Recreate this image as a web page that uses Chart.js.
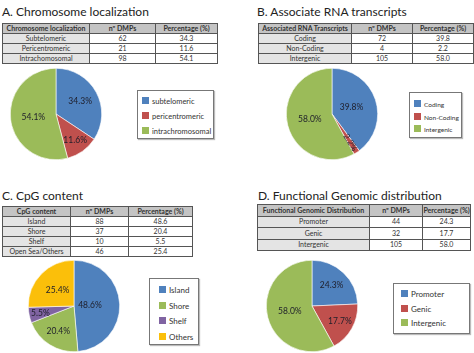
<!DOCTYPE html>
<html>
<head>
<meta charset="utf-8">
<script src="https://cdn.jsdelivr.net/npm/chart.js@4/dist/chart.umd.min.js"></script>
<style>
  body { margin: 0; background: #fff; font-family: Lato, "Open Sans", sans-serif; }
  #page { position: relative; width: 474px; height: 353px; overflow: hidden; }
  .title { position: absolute; font-size: 12px; color: #222; white-space: nowrap; }
  table { position: absolute; border-collapse: collapse; table-layout: fixed; border: 1.5px solid #333;
          font-size: 7px; color: #333; }
  td, th { border: 1px solid #555; text-align: center; padding: 0; line-height: 1; white-space: nowrap; overflow: hidden; }
  th { background: #c4c4c4; font-weight: bold; }
  td.first { background: #e4e4e4; }
  .pie { position: absolute; }
  .legend { position: absolute; border: 1px solid #777; box-shadow: 1px 1px 1px #bbb; color: #333; }
  .legend div { position: absolute; white-space: nowrap; line-height: 1; }
  .legend span { display: inline-block; width: 5px; height: 5px; border: 1px solid; margin-right: 3px; vertical-align: 0px; }
</style>
</head>
<body>
<div id="page"></div>
<script>
// Panel A
const chromCategories = ['Subtelomeric', 'Pericentromeric', 'Intrachomosomal'];
const chromLegend = ['subtelomeric', 'pericentromeric', 'intrachromosomal'];
const chromDMPs = [62, 21, 98];
const chromPercent = [34.3, 11.6, 54.1];

// Panel B
const rnaCategories = ['Coding', 'Non-Coding', 'Intergenic'];
const rnaDMPs = [72, 4, 105];
const rnaPercent = [39.8, 2.2, 58.0];

// Panel C
const cpgCategories = ['Island', 'Shore', 'Shelf', 'Open Sea/Others'];
const cpgLegend = ['Island', 'Shore', 'Shelf', 'Others'];
const cpgDMPs = [88, 37, 10, 46];
const cpgPercent = [48.6, 20.4, 5.5, 25.4];

// Panel D
const funcCategories = ['Promoter', 'Genic', 'Intergenic'];
const funcDMPs = [44, 32, 105];
const funcPercent = [24.3, 17.7, 58.0];

const blue = '#4f81bd', red = '#c0504d', green = '#9bbb59', purple = '#8064a2', yellow = '#fbbf0a';

const page = document.getElementById('page');

function addTitle(text, x, y) {
  const d = document.createElement('div');
  d.className = 'title';
  d.textContent = text;
  d.style.left = x + 'px';
  d.style.top = y + 'px';
  page.appendChild(d);
}

function addTable(head, cats, counts, pcts, x, y, cols, rowH) {
  const t = document.createElement('table');
  t.style.left = x + 'px';
  t.style.top = y + 'px';
  t.style.width = cols.reduce((a, b) => a + b, 0) + 'px';
  const cg = document.createElement('colgroup');
  cols.forEach(w => { const c = document.createElement('col'); c.style.width = w + 'px'; cg.appendChild(c); });
  t.appendChild(cg);
  let html = '<tr style="height:' + rowH + 'px"><th>' + head + '</th><th>nº DMPs</th><th>Percentage (%)</th></tr>';
  cats.forEach((c, i) => {
    html += '<tr style="height:' + rowH + 'px"><td class="first">' + c + '</td><td>' + counts[i] + '</td><td>' + pcts[i].toFixed(1) + '</td></tr>';
  });
  t.insertAdjacentHTML('beforeend', html);
  page.appendChild(t);
}

function addLegend(labels, colors, box, rows, fontSize) {
  const l = document.createElement('div');
  l.className = 'legend';
  l.style.left = box[0] + 'px';
  l.style.top = box[1] + 'px';
  l.style.width = box[2] + 'px';
  l.style.height = box[3] + 'px';
  l.style.fontSize = fontSize + 'px';
  labels.forEach((lab, i) => {
    const it = document.createElement('div');
    it.style.left = rows.x + 'px';
    it.style.top = (rows.y0 + i * rows.dy) + 'px';
    it.innerHTML = '<span style="background:' + colors[i] + ';border-color:' + colors[i] + '"></span>' + lab;
    l.appendChild(it);
  });
  page.appendChild(l);
}

const pctLabels = {
  id: 'pctLabels',
  afterDatasetsDraw(chart, args, opts) {
    const ctx = chart.ctx;
    const meta = chart.getDatasetMeta(0);
    const vals = chart.data.datasets[0].data;
    ctx.save();
    ctx.font = opts.size + 'px Lato, sans-serif';
    ctx.fillStyle = '#1e1e2a';
    ctx.textAlign = 'center';
    ctx.textBaseline = 'middle';
    meta.data.forEach((arc, i) => {
      const p = arc.getProps(['x', 'y', 'startAngle', 'endAngle', 'outerRadius']);
      const mid = (p.startAngle + p.endAngle) / 2;
      const f = (opts.dist && opts.dist[i]) || 0.55;
      const x = p.x + Math.cos(mid) * p.outerRadius * f;
      const y = p.y + Math.sin(mid) * p.outerRadius * f;
      ctx.save();
      ctx.translate(x, y);
      if (opts.rotate && opts.rotate[i]) ctx.rotate(mid);
      ctx.fillText(vals[i].toFixed(1) + '%', 0, 0);
      ctx.restore();
    });
    ctx.restore();
  }
};

function addPie(values, colors, cx, cy, r, labelOpts) {
  const c = document.createElement('canvas');
  c.className = 'pie';
  c.width = 2 * r;
  c.height = 2 * r;
  c.style.left = (cx - r) + 'px';
  c.style.top = (cy - r) + 'px';
  page.appendChild(c);
  new Chart(c, {
    type: 'pie',
    data: {
      labels: values.map(String),
      datasets: [{ data: values, backgroundColor: colors, borderWidth: 0.6, borderColor: '#ffffff' }]
    },
    options: {
      responsive: false,
      animation: false,
      layout: { padding: 0 },
      plugins: {
        legend: { display: false },
        tooltip: { enabled: false },
        pctLabels: labelOpts
      }
    },
    plugins: [pctLabels]
  });
}

// A
addTitle('A. Chromosome localization', 2, 4);
addTable('Chromosome localization', chromCategories, chromDMPs, chromPercent, 2, 23, [87, 66, 62], 10);
addPie(chromPercent, [blue, red, green], 55.5, 114, 46, { size: 8.5, dist: [0.6, 0.72, 0.5] });
addLegend(chromLegend, [blue, red, green], [137, 90, 75, 47], { x: 4, y0: 6, dy: 15 }, 7.5);

// B
addTitle('B. Associate RNA transcripts', 257, 4);
addTable('Associated RNA Transcripts', rnaCategories, rnaDMPs, rnaPercent, 258, 23, [93, 61, 61], 10);
addPie(rnaPercent, [blue, red, green], 332, 114, 46, { size: 8.5, dist: [0.45, 0.74, 0.5], rotate: [false, true, false] });
addLegend(rnaCategories, [blue, red, green], [409, 92, 51, 44], { x: 4, y0: 7, dy: 12.5 }, 6.5);

// C
addTitle('C. CpG content', 2, 188);
addTable('CpG content', cpgCategories, cpgDMPs, cpgPercent, 2, 206, [68, 58, 64], 10);
addPie(cpgPercent, [blue, green, purple, yellow], 73.5, 306, 46, { size: 8.5, dist: [0.35, 0.65, 0.75, 0.5] });
addLegend(cpgLegend, [blue, green, purple, yellow], [149, 278, 48, 65], { x: 9, y0: 7, dy: 15.7 }, 8);

// D
addTitle('D. Functional Genomic distribution', 258, 188);
addTable('Functional Genomic Distribution', funcCategories, funcDMPs, funcPercent, 257, 204, [112, 53, 48], 11.5);
addPie(funcPercent, [blue, red, green], 311.5, 306, 46, { size: 8.5, dist: [0.62, 0.7, 0.5] });
addLegend(funcCategories, [blue, red, green], [393, 283, 75, 49], { x: 7, y0: 6, dy: 14.7 }, 8);
</script>
</body>
</html>
